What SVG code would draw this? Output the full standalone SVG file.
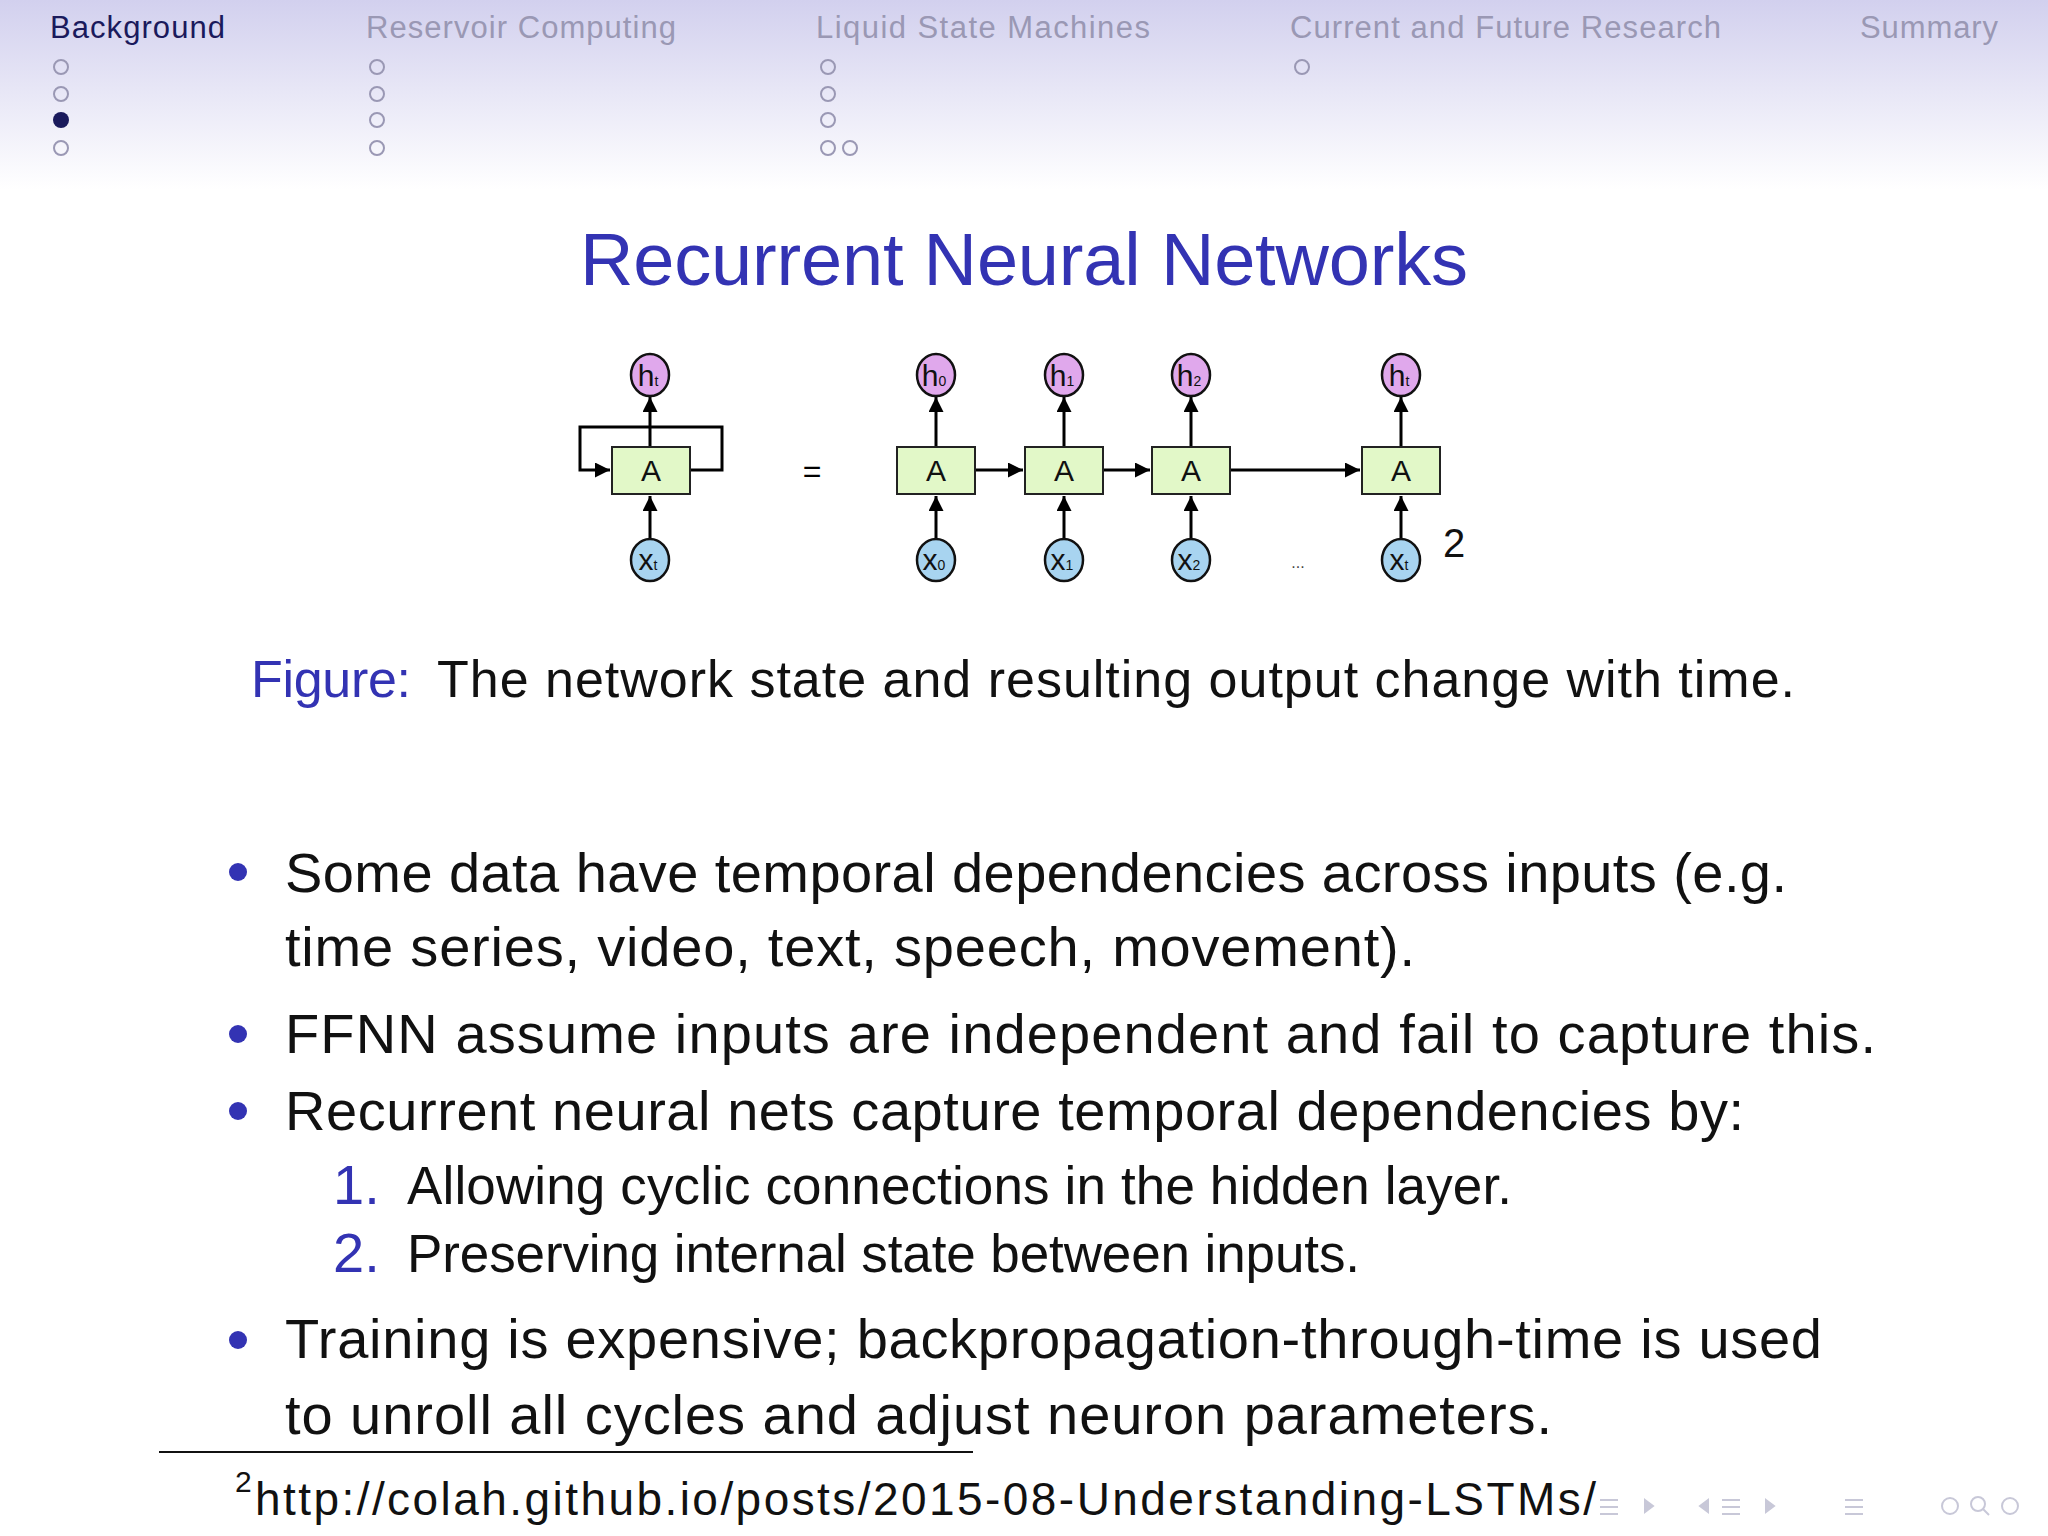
<svg xmlns="http://www.w3.org/2000/svg" width="2048" height="1536" viewBox="0 0 2048 1536">
<defs>
<linearGradient id="hdr" x1="0" y1="0" x2="0" y2="1">
<stop offset="0" stop-color="#d2d0ee"/><stop offset="1" stop-color="#ffffff"/>
</linearGradient>
<marker id="ah" viewBox="0 0 10 10" refX="10" refY="5" markerWidth="5" markerHeight="5" orient="auto"><path d="M0,0 L10,5 L0,10 z" fill="#000"/></marker>
</defs>
<style>
text{font-family:"Liberation Sans","DejaVu Sans",sans-serif}
.nav{font-size:31px;fill:#9a98b4}
.dot{fill:none;stroke:#9a98b4;stroke-width:2}
.box{fill:#e2f8c8;stroke:#222;stroke-width:2}
.h{fill:#e0a8ec;stroke:#111;stroke-width:2.5}
.x{fill:#a8d4f0;stroke:#111;stroke-width:2.5}
.ln{stroke:#000;stroke-width:3;fill:none;marker-end:url(#ah)}
.lbl{font-size:30px;text-anchor:middle;fill:#111}
.sub{font-size:14px}
.body{font-size:56px;fill:#111}
.sm{font-size:53px}
.blue{fill:#3333b3}
</style>
<rect width="2048" height="1536" fill="#fff"/>
<rect width="2048" height="190" fill="url(#hdr)"/>
<g id="header">
<text x="50" y="38" font-size="31" fill="#1a1a5c" textLength="175">Background</text>
<text class="nav" x="366" y="38" textLength="310">Reservoir Computing</text>
<text class="nav" x="816" y="38" textLength="334">Liquid State Machines</text>
<text class="nav" x="1290" y="38" textLength="431">Current and Future Research</text>
<text class="nav" x="1860" y="38" textLength="138">Summary</text>
<circle class="dot" cx="61" cy="67" r="7"/><circle class="dot" cx="61" cy="94" r="7"/><circle cx="61" cy="120" r="8" fill="#1a1a5c"/><circle class="dot" cx="61" cy="148" r="7"/>
<circle class="dot" cx="377" cy="67" r="7"/><circle class="dot" cx="377" cy="94" r="7"/><circle class="dot" cx="377" cy="120" r="7"/><circle class="dot" cx="377" cy="148" r="7"/>
<circle class="dot" cx="828" cy="67" r="7"/><circle class="dot" cx="828" cy="94" r="7"/><circle class="dot" cx="828" cy="120" r="7"/><circle class="dot" cx="828" cy="148" r="7"/><circle class="dot" cx="850" cy="148" r="7"/>
<circle class="dot" cx="1302" cy="67" r="7"/>
</g>
<text x="1024" y="285" font-size="74" text-anchor="middle" class="blue" textLength="888">Recurrent Neural Networks</text>
<g id="connectors">
<line class="ln" x1="650" y1="540" x2="650" y2="496"/>
<line class="ln" x1="650" y1="447" x2="650" y2="397"/>
<path class="ln" d="M690,470 H722 V427 H580 V470 H610"/>
<line class="ln" x1="936" y1="540" x2="936" y2="496"/><line class="ln" x1="936" y1="447" x2="936" y2="397"/>
<line class="ln" x1="1064" y1="540" x2="1064" y2="496"/><line class="ln" x1="1064" y1="447" x2="1064" y2="397"/>
<line class="ln" x1="1191" y1="540" x2="1191" y2="496"/><line class="ln" x1="1191" y1="447" x2="1191" y2="397"/>
<line class="ln" x1="1401" y1="540" x2="1401" y2="496"/><line class="ln" x1="1401" y1="447" x2="1401" y2="397"/>
<line class="ln" x1="975" y1="470" x2="1023" y2="470"/>
<line class="ln" x1="1103" y1="470" x2="1150" y2="470"/>
<line class="ln" x1="1230" y1="470" x2="1360" y2="470"/>
</g>
<g id="folded">
<rect class="box" x="612" y="447" width="78" height="47"/><text class="lbl" x="651" y="481">A</text>
<ellipse class="h" cx="650" cy="375" rx="19" ry="21"/><text class="lbl" x="648" y="386" font-size="26">h<tspan class="sub">t</tspan></text>
<ellipse class="x" cx="650" cy="560" rx="19" ry="21"/><text class="lbl" x="648" y="570" font-size="26">x<tspan class="sub">t</tspan></text>
</g>
<text x="812" y="482" font-size="32" text-anchor="middle">=</text>
<g id="step0"><rect class="box" x="897" y="447" width="78" height="47"/><text class="lbl" x="936" y="481">A</text>
<ellipse class="h" cx="936" cy="375" rx="19" ry="21"/><text class="lbl" x="934" y="386" font-size="26">h<tspan class="sub">0</tspan></text>
<ellipse class="x" cx="936" cy="560" rx="19" ry="21"/><text class="lbl" x="934" y="570" font-size="26">x<tspan class="sub">0</tspan></text></g>
<g id="step1"><rect class="box" x="1025" y="447" width="78" height="47"/><text class="lbl" x="1064" y="481">A</text>
<ellipse class="h" cx="1064" cy="375" rx="19" ry="21"/><text class="lbl" x="1062" y="386" font-size="26">h<tspan class="sub">1</tspan></text>
<ellipse class="x" cx="1064" cy="560" rx="19" ry="21"/><text class="lbl" x="1062" y="570" font-size="26">x<tspan class="sub">1</tspan></text></g>
<g id="step2"><rect class="box" x="1152" y="447" width="78" height="47"/><text class="lbl" x="1191" y="481">A</text>
<ellipse class="h" cx="1191" cy="375" rx="19" ry="21"/><text class="lbl" x="1189" y="386" font-size="26">h<tspan class="sub">2</tspan></text>
<ellipse class="x" cx="1191" cy="560" rx="19" ry="21"/><text class="lbl" x="1189" y="570" font-size="26">x<tspan class="sub">2</tspan></text></g>
<g id="stept"><rect class="box" x="1362" y="447" width="78" height="47"/><text class="lbl" x="1401" y="481">A</text>
<ellipse class="h" cx="1401" cy="375" rx="19" ry="21"/><text class="lbl" x="1399" y="386" font-size="26">h<tspan class="sub">t</tspan></text>
<ellipse class="x" cx="1401" cy="560" rx="19" ry="21"/><text class="lbl" x="1399" y="570" font-size="26">x<tspan class="sub">t</tspan></text></g>
<text x="1298" y="568" font-size="16" text-anchor="middle" fill="#444">...</text>
<text x="1443" y="557" font-size="40" fill="#111">2</text>
<text x="251" y="697" font-size="52"><tspan class="blue" textLength="160">Figure:</tspan></text>
<text x="437" y="697" font-size="52" fill="#111" textLength="1358">The network state and resulting output change with time.</text>
<g id="bullets">
<circle cx="238" cy="872" r="9" class="blue"/><circle cx="238" cy="1034" r="9" class="blue"/><circle cx="238" cy="1111" r="9" class="blue"/><circle cx="238" cy="1340" r="9" class="blue"/>
<text class="body" x="285" y="892" textLength="1502">Some data have temporal dependencies across inputs (e.g.</text>
<text class="body" x="285" y="966" textLength="1130">time series, video, text, speech, movement).</text>
<text class="body" x="285" y="1053" textLength="1591">FFNN assume inputs are independent and fail to capture this.</text>
<text class="body" x="285" y="1130" textLength="1459">Recurrent neural nets capture temporal dependencies by:</text>
<text class="body blue" x="333" y="1204">1.</text>
<text class="body sm" x="407" y="1204" textLength="1105">Allowing cyclic connections in the hidden layer.</text>
<text class="body blue" x="333" y="1272">2.</text>
<text class="body sm" x="407" y="1272" textLength="953">Preserving internal state between inputs.</text>
<text class="body" x="285" y="1358" textLength="1537">Training is expensive; backpropagation-through-time is used</text>
<text class="body" x="285" y="1434" textLength="1267">to unroll all cycles and adjust neuron parameters.</text>
</g>
<line x1="159" y1="1452" x2="973" y2="1452" stroke="#111" stroke-width="2"/>
<text x="235" y="1492" font-size="30" fill="#111">2</text>
<text x="255" y="1515" font-size="46" fill="#111" textLength="1341">http://colah.github.io/posts/2015-08-Understanding-LSTMs/</text>
<g id="navicons" fill="none" stroke="#c8c8d8" stroke-width="2">
<path d="M1600,1500 h18 M1600,1507 h18 M1600,1514 h18"/><path d="M1645,1500 l8,6 l-8,6z" fill="#c8c8d8"/>
<path d="M1700,1506 l8,-6 v12z" fill="#c8c8d8"/><path d="M1722,1500 h18 M1722,1507 h18 M1722,1514 h18"/><path d="M1766,1500 l8,6 l-8,6z" fill="#c8c8d8"/>
<path d="M1845,1500 h18 M1845,1507 h18 M1845,1514 h18"/>
<circle cx="1950" cy="1506" r="8"/><circle cx="1978" cy="1504" r="7"/><path d="M1983,1509 l6,6"/><circle cx="2010" cy="1506" r="8"/>
</g>
</svg>
